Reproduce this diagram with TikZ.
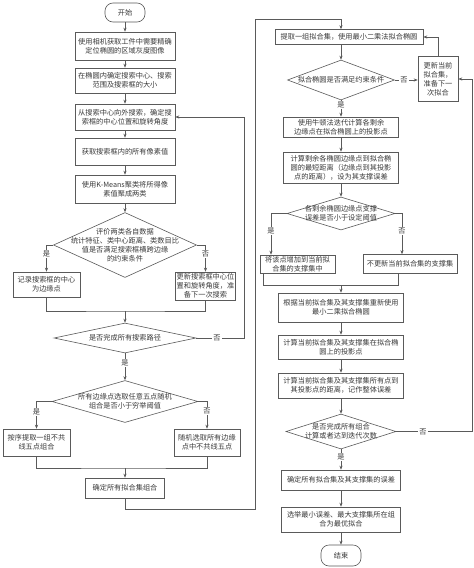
\documentclass[tikz,border=0pt]{standalone}
\usepackage{fontspec}
\setmainfont{Noto Sans CJK SC}
\usetikzlibrary{shapes.geometric,arrows.meta}
\definecolor{linec}{HTML}{5A5A5A}
\definecolor{txtc}{HTML}{3A3A3A}
\newcommand{\myft}{\fontsize{7.2}{8.9}\selectfont}
\begin{document}
\begin{tikzpicture}[x=1pt,y=-1pt,
  box/.style={draw=linec, fill=white, inner sep=0pt, align=center, font=\myft, text=txtc, line width=0.6pt},
  term/.style={box, rounded corners=8pt},
  dia/.style={draw=linec, fill=white, shape=diamond, inner sep=0pt, line width=0.6pt},
  dtext/.style={align=center, font=\myft, text=txtc, inner sep=0pt},
  arr/.style={draw=linec, line width=0.6pt, -{Stealth[length=4pt,width=3.2pt]}},
  ln/.style={draw=linec, line width=0.6pt},
  lab/.style={font=\myft, text=txtc, fill=white, inner sep=1pt}]
\useasboundingbox[fill=white] (0,0) rectangle (474,568);

% ---------- left column ----------
\node[term, minimum width=40pt, minimum height=19pt] (start) at (125,12.5) {开始};
\node[box, minimum width=100pt, minimum height=28pt] (b1) at (125,46) {使用相机获取工件中需要精确\\定位椭圆的区域灰度图像};
\node[box, minimum width=100pt, minimum height=25pt] (b2) at (125,80.5) {在椭圆内确定搜索中心、搜索\\范围及搜索框的大小};
\node[box, minimum width=100pt, minimum height=26pt] (b3) at (125,117) {从搜索中心向外搜索，确定搜\\索框的中心位置和旋转角度};
\node[box, minimum width=100pt, minimum height=27pt] (b4) at (125,151.5) {获取搜索框内的所有像素值};
\node[box, minimum width=100pt, minimum height=28pt] (b5) at (125,189) {使用K-Means聚类将所得像\\素值聚成两类};
\node[dia, minimum width=143pt, minimum height=65pt] (d1) at (125,245) {};
\node[dtext] (d1t) at (d1.center) {评价两类各自数据\\统计特征、类中心距离、类数目比\\值是否满足搜索框横跨边缘\\的约束条件};
\node[box, minimum width=67pt, minimum height=25pt] (l1) at (46.5,284.5) {记录搜索框的中心\\为边缘点};
\node[box, minimum width=60pt, minimum height=28pt] (r1) at (205.5,286) {更新搜索框中心位\\置和旋转角度，准\\备下一次搜索};
\coordinate (j1) at (125,311);
\node[dia, minimum width=142pt, minimum height=30pt] (d2) at (125,338) {};
\node[dtext] (d2t) at (d2.center) {是否完成所有搜索路径};
\node[dia, minimum width=146pt, minimum height=42pt] (d3) at (125,401.5) {};
\node[dtext] (d3t) at (d3.center) {所有边缘点选取任意五点随机\\组合是否小于穷举阈值};
\node[box, minimum width=67pt, minimum height=27pt] (l2) at (36.5,442.5) {按序提取一组不共\\线五点组合};
\node[box, minimum width=66pt, minimum height=27pt] (r2) at (207,442.5) {随机选取所有边缘\\点中不共线五点};
\coordinate (j2) at (125,468);
\node[box, minimum width=79pt, minimum height=20pt] (b6) at (125,488) {确定所有拟合集组合};

% ---------- right column ----------
\node[box, minimum width=148pt, minimum height=15pt] (R1) at (349,37) {提取一组拟合集，使用最小二乘法拟合椭圆};
\node[dia, minimum width=107pt, minimum height=40pt] (RD1) at (341,80) {};
\node[dtext] (RD1t) at (RD1.center) {拟合椭圆是否满足约束条件};
\node[box, minimum width=40pt, minimum height=45pt] (RU) at (438,79) {更新当前\\拟合集，\\准备下一\\次拟合};
\node[box, minimum width=115pt, minimum height=20pt] (R2) at (341,127) {使用牛顿法迭代计算各剩余\\边缘点在拟合椭圆上的投影点};
\node[box, minimum width=115pt, minimum height=31pt] (R3) at (341,167.5) {计算剩余各椭圆边缘点到拟合椭\\圆的最短距离（边缘点到其投影\\点的距离），设为其支撑误差};
\node[dia, minimum width=108pt, minimum height=33pt] (RD2) at (341,213.5) {};
\node[dtext] (RD2t) at (RD2.center) {各剩余椭圆边缘点支撑\\误差是否小于设定阈值};
\node[box, minimum width=75pt, minimum height=18pt] (RL) at (297.5,264) {将该点增加到当前拟\\合集的支撑集中};
\node[box, minimum width=94pt, minimum height=19pt] (RR) at (410,264) {不更新当前拟合集的支撑集};
\coordinate (j3) at (341,285);
\node[box, minimum width=125pt, minimum height=29pt] (R4) at (341,307.5) {根据当前拟合集及其支撑集重新使用\\最小二乘拟合椭圆};
\node[box, minimum width=125pt, minimum height=24pt] (R5) at (341,347) {计算当前拟合集及其支撑集在拟合椭\\圆上的投影点};
\node[box, minimum width=125pt, minimum height=25pt] (R6) at (341,385.5) {计算当前拟合集及其支撑集所有点到\\其投影点的距离，记作整体误差};
\node[dia, minimum width=110pt, minimum height=35pt] (RD3) at (341,431.5) {};
\node[dtext] (RD3t) at (RD3.center) {是否完成所有组合\\计算或者达到迭代次数};
\node[box, minimum width=119pt, minimum height=20pt] (R7) at (341,480) {确定所有拟合集及其支撑集的误差};
\node[box, minimum width=119pt, minimum height=25pt] (R8) at (341,519.5) {选举最小误差、最大支撑集所在组\\合为最优拟合};
\node[term, minimum width=40pt, minimum height=21pt] (end) at (341,555.5) {结束};

% ---------- left connectors ----------
\draw[arr] (start) -- (b1);
\draw[arr] (b1) -- (b2);
\draw[arr] (b2) -- (b3);
\draw[arr] (b3) -- (b4);
\draw[arr] (b4) -- (b5);
\draw[arr] (b5) -- (d1);
\draw[arr] (d1.west) -| (l1.north);
\node[lab] (y1) at (46.5,254) {是};
\draw[arr] (d1.east) -| (r1.north);
\node[lab] (n1) at (205.5,254) {否};
\draw[ln] (l1.south) |- (j1) -| (r1.south);
\draw[arr] (j1) -- (d2.north);
\coordinate (c1) at (244,338);
\draw[arr] (d2.east) -- (c1) |- (b3.east);
\node[lab] (n2) at (217,338) {否};
\draw[arr] (d2.south) -- (d3.north);
\node[lab] (y2) at (125,363) {是};
\draw[arr] (d3.west) -| (l2.north);
\node[lab] (y3) at (36.5,412) {是};
\draw[arr] (d3.east) -| (r2.north);
\node[lab] (n3) at (207,411) {否};
\draw[ln] (l2.south) |- (j2) -| (r2.south);
\draw[arr] (j2) -- (b6.north);
\coordinate (c2) at (125,509);
\coordinate (c3) at (255,509);
\coordinate (c4) at (255,19);
\coordinate (c5) at (341,19);
\draw[arr] (b6.south) -- (c2) -- (c3) -- (c4) -- (c5) -- (c5 |- R1.north);

% ---------- right connectors ----------
\draw[arr] (RD1.north |- R1.south) -- (RD1.north);
\draw[arr] (RD1.east) -- (RU.west |- RD1.east);
\node[lab] (n4) at (404,80) {否};
\draw[arr] (RU.north) |- (R1.east);
\draw[arr] (RD1.south) -- (R2.north);
\node[lab] (y4) at (341,105) {是};
\draw[arr] (R2) -- (R3);
\draw[arr] (R3) -- (RD2);
\coordinate (c7) at (271,213.5);
\draw[arr] (RD2.west) -- (c7) -- (c7 |- RL.north);
\node[lab] (y5) at (271,231) {是};
\coordinate (c8) at (402,213.5);
\draw[arr] (RD2.east) -- (c8) -- (c8 |- RR.north);
\node[lab] (n5) at (402,231) {否};
\coordinate (c9) at (263,285);
\coordinate (c10) at (398,285);
\draw[ln] (c9 |- RL.south) -- (c9) -- (c10) -- (c10 |- RR.south);
\draw[arr] (j3) -- (R4.north);
\draw[arr] (R4) -- (R5);
\draw[arr] (R5) -- (R6);
\draw[arr] (R6) -- (RD3);
\coordinate (c6) at (472,431.5);
\draw[arr] (RD3.east) -- (c6) |- (RU.east);
\node[lab] (n6) at (423,431.5) {否};
\draw[arr] (RD3.south) -- (R7.north);
\node[lab] (y6) at (341,457) {是};
\draw[arr] (R7) -- (R8);
\draw[arr] (R8) -- (end);
\end{tikzpicture}
\end{document}
